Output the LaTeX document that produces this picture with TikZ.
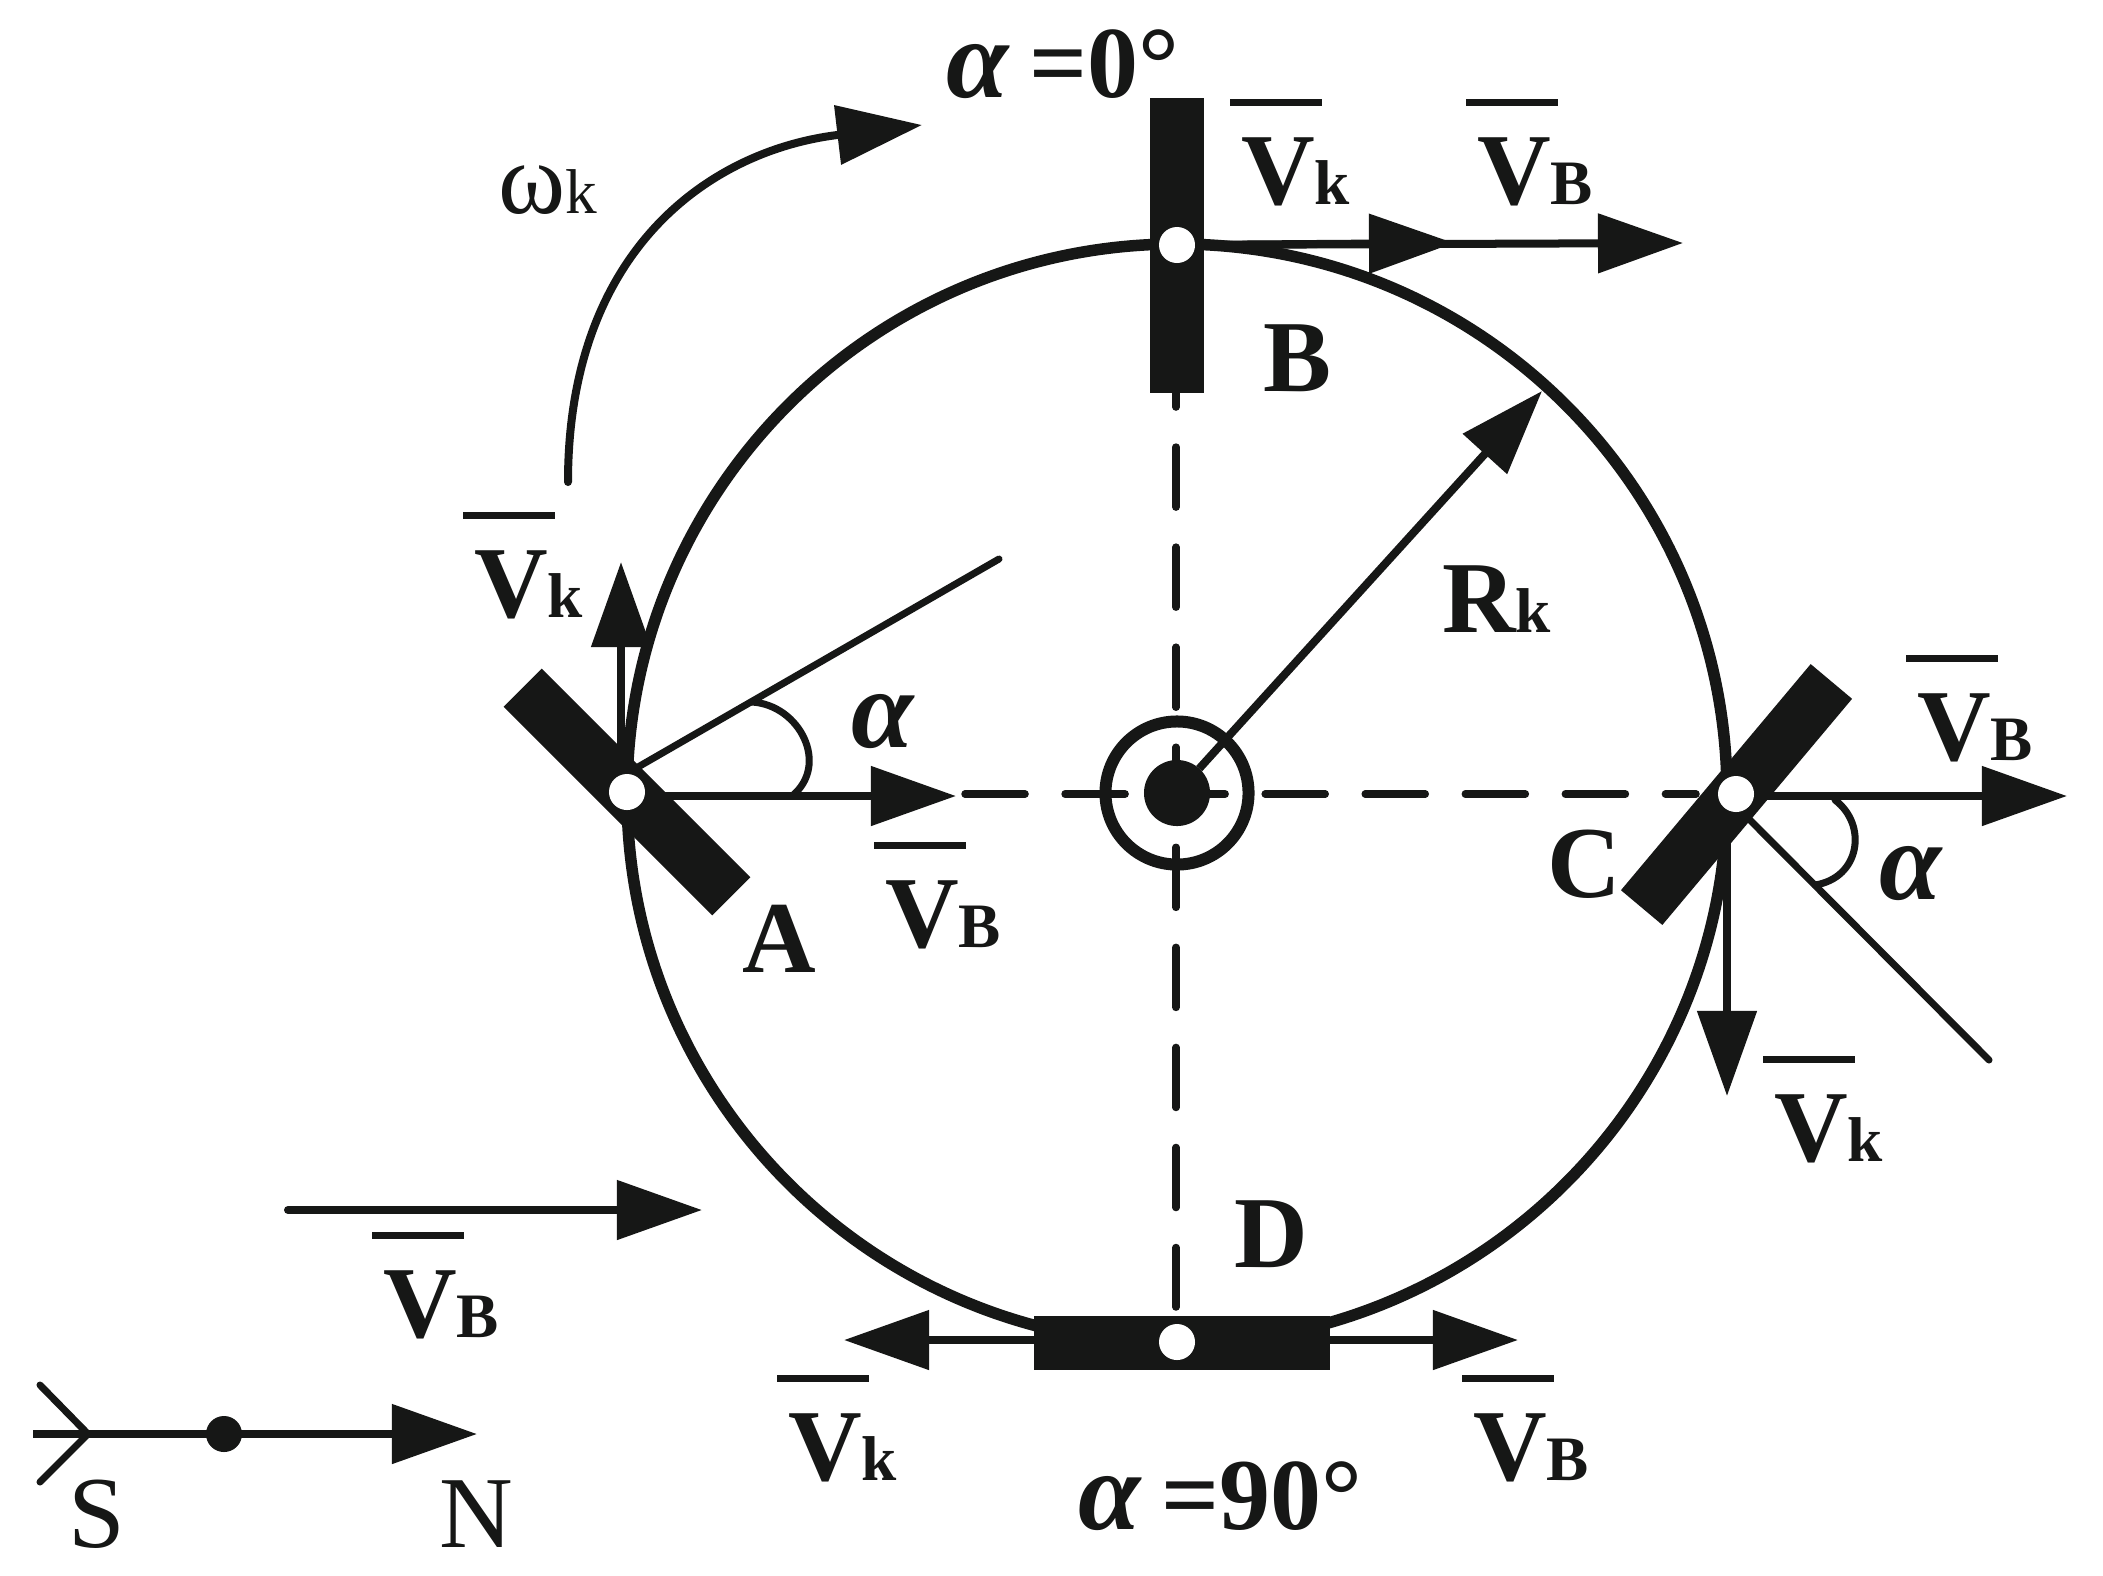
\documentclass[tikz,border=0pt]{standalone}
\usepackage{fontspec}
\setmainfont{Liberation Serif}
\usetikzlibrary{arrows.meta}
\definecolor{inkblk}{HTML}{161716}
\newcommand{\subl}[1]{{\fontsize{18}{18}\selectfont\upshape #1}}
\newcommand{\velo}[1]{\rlap{\hspace{-3pt}\rule[27.85pt]{25.9pt}{1.9pt}}{\fontsize{29}{29}\selectfont\bfseries V}\subl{#1}}
\newcommand{\alp}{{\fontsize{32}{32}\selectfont\bfseries\itshape α}}
\begin{document}
\begin{tikzpicture}[x=0.01cm,y=0.01cm]
\tikzstyle{every node}+=[inner sep=0pt,outer sep=0pt,text=inkblk]
\tikzstyle{blade}=[fill=inkblk,minimum width=2.95cm,minimum height=0.54cm]
\tikzstyle{pin}=[circle,fill=white,minimum size=0.36cm]
\tikzstyle{vec}=[draw=inkblk,line width=0.8mm,-{Triangle[length=8.5mm,width=5.8mm]}]
\tikzstyle{thin}=[draw=inkblk,line width=0.7mm,line cap=round]
\tikzstyle{axis}=[draw=inkblk,line width=0.75mm,line cap=round,dash pattern=on 6mm off 4mm]
\tikzstyle{big}=[font=\fontsize{29}{29}\selectfont\bfseries,anchor=base west]
\tikzstyle{plain}=[font=\fontsize{29}{29}\selectfont,anchor=base west]
\fill [white] (0,0) rectangle (2103,-1575);
\useasboundingbox (0,0) rectangle (2103,-1575);
% axes and rotor
\coordinate (axisL) at (965,-794);
\coordinate (axisR) at (1696,-794);
\coordinate (axisT) at (1176,-347);
\coordinate (axisB) at (1176,-1307);
\draw [axis] (axisL) -- (axisR);
\draw [axis] (axisT) -- (axisB);
\draw [inkblk,line width=1.15mm] (1177,-794) circle (550);
\node [circle,draw=inkblk,line width=1.2mm,minimum size=1.43cm] (ring) at (1177,-793) {};
\node [circle,fill=inkblk,minimum size=0.66cm] (hub) at (1177,-793) {};
% blades
\node [blade,rotate=-45] (bladeA) at (627,-792) {};
\node [blade,rotate=90] (bladeB) at (1177,-245.5) {};
\node [blade,rotate=50] (bladeC) at (1736.5,-794.5) {};
\node [blade] (bladeD) at (1182,-1343) {};
\node [pin] (pinA) at (627,-792) {};
\node [pin] (pinB) at (1177,-245) {};
\node [pin] (pinC) at (1736,-794) {};
\node [pin] (pinD) at (1177,-1342) {};
% blade A
\coordinate (tipAk) at (621,-562);
\coordinate (rootAk) at (621,-770);
\coordinate (rootAb) at (650,-796);
\coordinate (tipAb) at (956,-796);
\coordinate (rootAr) at (638,-767);
\coordinate (rayA) at (999,-559);
\coordinate (arcAa) at (752,-702);
\coordinate (arcAb) at (792,-796);
\draw [vec] (rootAk) -- (tipAk);
\draw [vec] (rootAb) -- (tipAb);
\draw [thin] (rootAr) -- (rayA);
\draw [thin] (arcAa) .. controls (800,-705) and (830,-765) .. (arcAb);
% blade B
\coordinate (tipBk) at (1454,-243);
\coordinate (tipBb) at (1683,-243);
\draw [vec] (pinB) -- (tipBb);
\draw [vec] (pinB) -- (tipBk);
% blade C
\coordinate (tipCb) at (2067,-796);
\coordinate (rootCb) at (1755,-796);
\coordinate (rootCk) at (1727,-840);
\coordinate (tipCk) at (1727,-1096);
\coordinate (rootCr) at (1746,-816);
\coordinate (rayC) at (1989,-1060);
\coordinate (arcCa) at (1835,-800);
\coordinate (arcCb) at (1815,-885);
\draw [vec] (rootCb) -- (tipCb);
\draw [vec] (rootCk) -- (tipCk);
\draw [thin] (rootCr) -- (rayC);
\draw [thin] (arcCa) .. controls (1868,-825) and (1860,-878) .. (arcCb);
% blade D
\coordinate (tipDk) at (844,-1340);
\coordinate (tipDb) at (1518,-1340);
\draw [vec] (bladeD.west |- tipDk) -- (tipDk);
\draw [vec] (bladeD.east |- tipDb) -- (tipDb);
% radius, rotation, wind
\coordinate (rim) at (1542,-391);
\draw [vec] (hub) -- (rim);
\coordinate (spinA) at (568,-482);
\coordinate (spinB) at (922,-125);
\draw [vec,line cap=round] (spinA) .. controls (568,-250) and (710,-150) .. (spinB);
\coordinate (windA) at (288,-1210);
\coordinate (windB) at (702,-1210);
\draw [vec,line cap=round] (windA) -- (windB);
% S-N mark
\coordinate (snA) at (33,-1434);
\coordinate (snB) at (477,-1434);
\coordinate (featherT) at (40,-1385);
\coordinate (featherM) at (88,-1434);
\coordinate (featherL) at (40,-1482);
\draw [vec] (snA) -- (snB);
\draw [thin] (featherT) -- (featherM) -- (featherL);
\node [circle,fill=inkblk,minimum size=0.36cm] (snDot) at (224,-1434) {};
% labels
\node [plain] (sS) at (68,-1547) {S};
\node [plain] (sN) at (439,-1547) {N};
\node [plain] (omega) at (498,-213) {ω\subl{k}};
\node [big] (lblA) at (742,-972) {A};
\node [big] (lblB) at (1263,-391) {B};
\node [big] (lblC) at (1547,-897) {C};
\node [big] (lblD) at (1234,-1267) {D};
\node [big] (lblR) at (1442,-632) {R\subl{k}};
\node [big] (vkA) at (474,-617) {\velo{k}};
\node [big] (vbA) at (885,-947) {\velo{B}};
\node [big] (vkB) at (1241,-204) {\velo{k}};
\node [big] (vbB) at (1477,-204) {\velo{B}};
\node [big] (vbC) at (1917,-760) {\velo{B}};
\node [big] (vkC) at (1774,-1161) {\velo{k}};
\node [big] (vkD) at (788,-1480) {\velo{k}};
\node [big] (vbD) at (1473,-1480) {\velo{B}};
\node [big] (vbW) at (383,-1337) {\velo{B}};
\node [big] (alphaA) at (851,-747) {\alp};
\node [big] (alphaC) at (1879,-899) {\alp};
\node [big] (alphaT) at (946,-97) {\alp\hspace{6pt}=0°};
\node [big] (alphaD) at (1078,-1529) {\alp\hspace{6pt}=90°};
\end{tikzpicture}
\end{document}
